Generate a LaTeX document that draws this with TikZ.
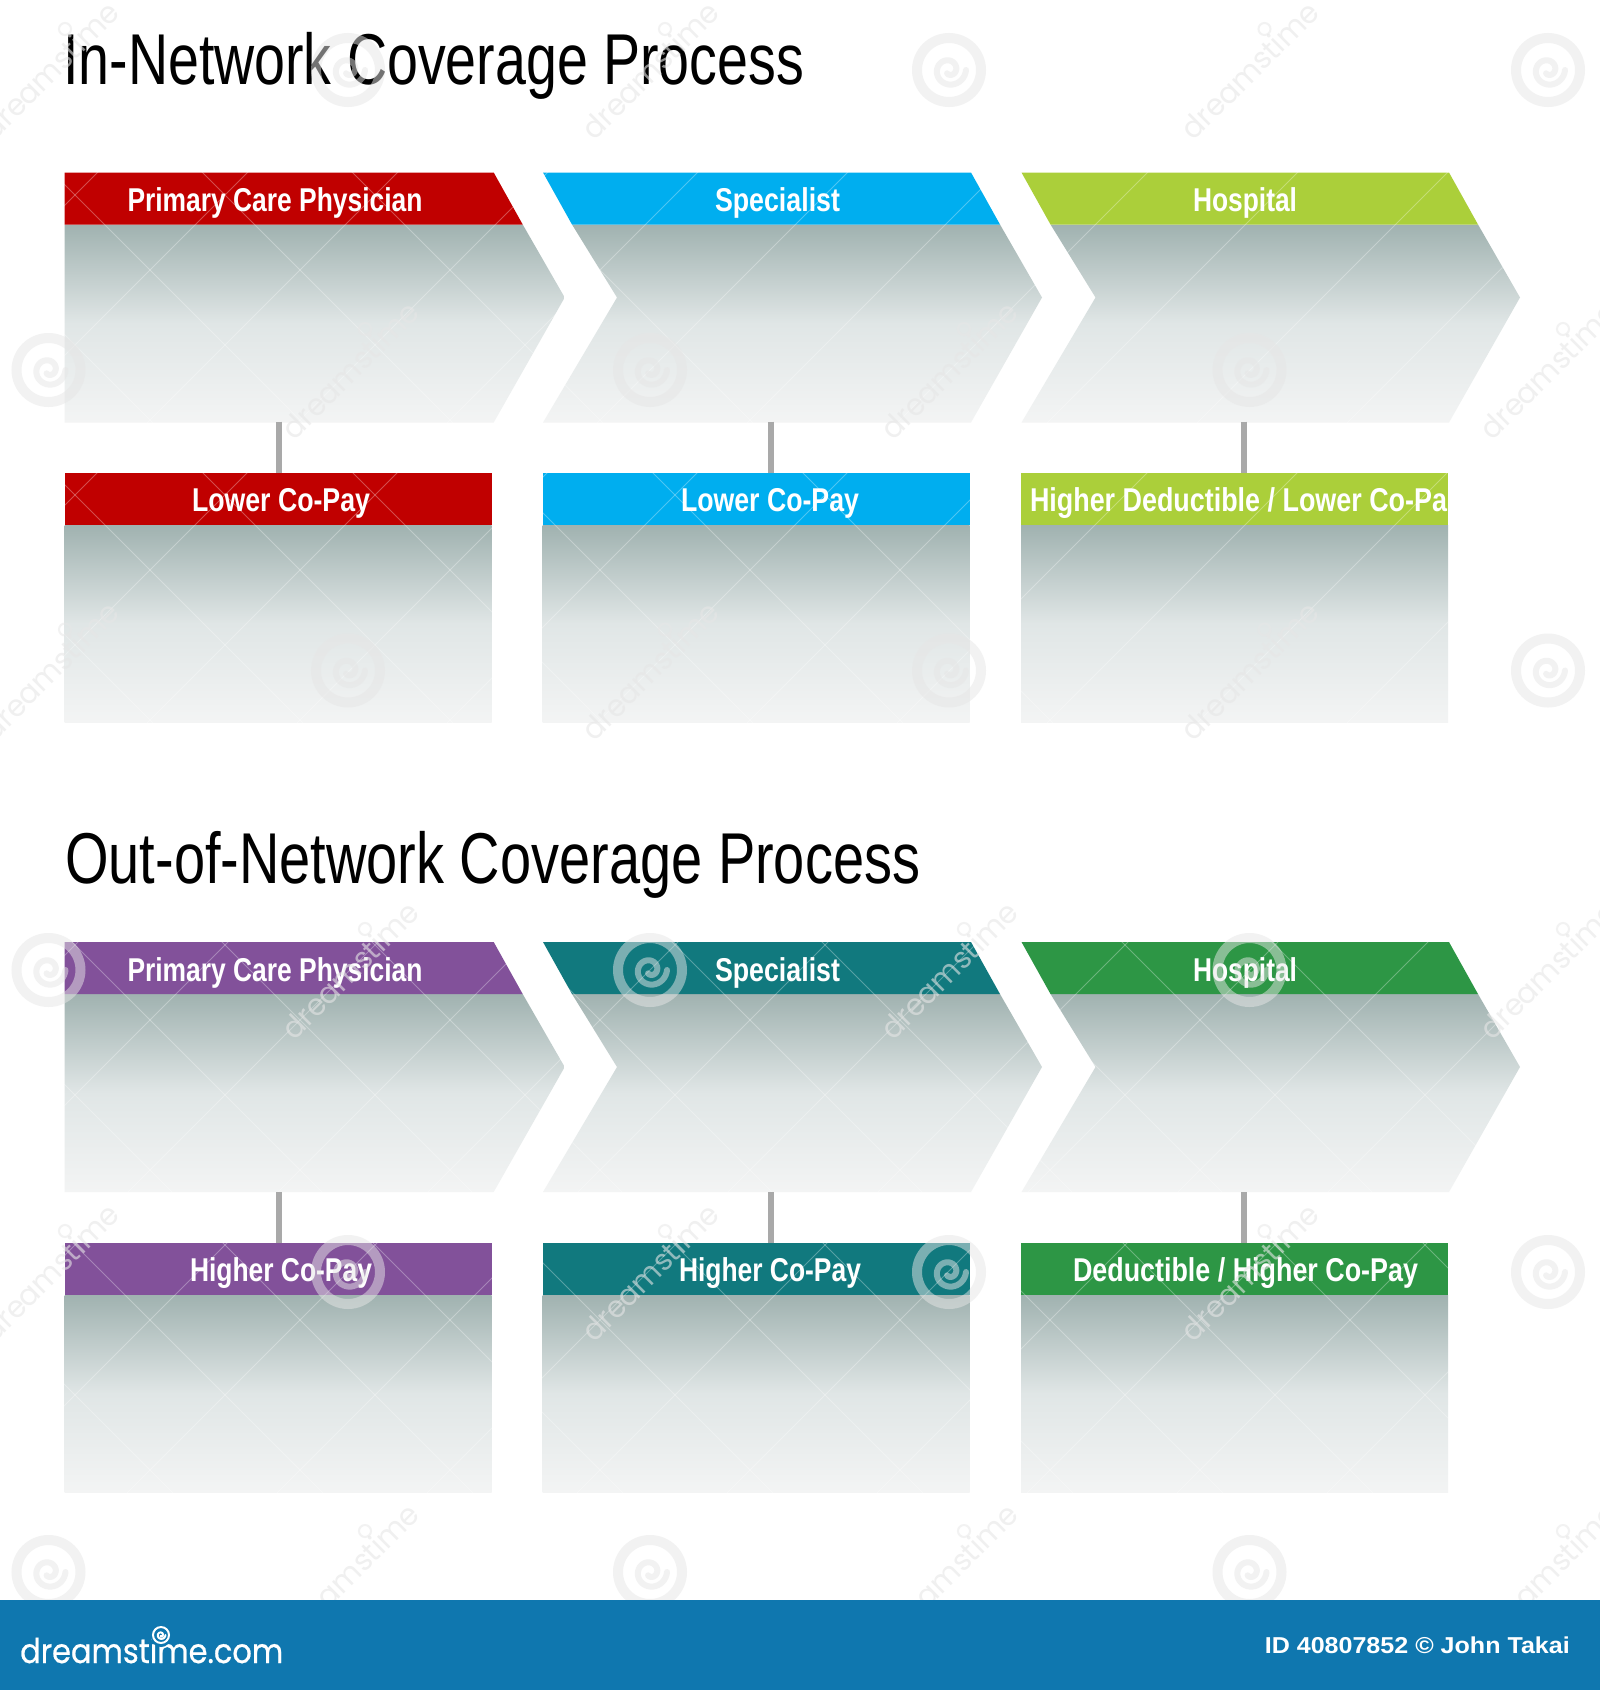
\documentclass[tikz,border=0pt]{standalone}
\usepackage{fontspec}
\usepackage{graphicx}
\setmainfont{Liberation Sans}
\newfontfamily\wmfont{Poppins}
\newfontfamily\logofont[FakeBold=0.7]{Poppins}
\newsavebox\fitbox
\newcommand\fitw[2]{\sbox\fitbox{#2}\pgfmathsetmacro\fitr{#1/\the\wd\fitbox}\scalebox{\fitr}[1]{\usebox\fitbox}}
\definecolor{cRed}{HTML}{C00000}
\definecolor{cBlue}{HTML}{00AEEF}
\definecolor{cLime}{HTML}{ABCF3A}
\definecolor{cPurple}{HTML}{82519A}
\definecolor{cTeal}{HTML}{11797E}
\definecolor{cGreen}{HTML}{2D9645}
\definecolor{cFoot}{HTML}{0F77AF}
\definecolor{cLink}{HTML}{A9A9A9}
\definecolor{cTop}{HTML}{A0B2B0}
\definecolor{cMid}{HTML}{E0E6E6}
\definecolor{cBot}{HTML}{F3F4F4}
\definecolor{cWm}{HTML}{E6E6E6}
\tikzset{
  panel/.style={top color=cTop,bottom color=cBot,middle color=cMid,draw=none},
  titletext/.style={anchor=base west,inner sep=0pt,font=\fontsize{72}{72}\selectfont},
  headtext/.style={anchor=base,inner sep=0pt,text=white,font=\fontsize{33}{33}\selectfont\bfseries},
  lowhead/.style={anchor=north west,inner sep=0pt,minimum width=427pt,minimum height=52pt,draw=none},
  link/.style={draw=cLink,line width=6pt},
  wmark/.style={draw=cWm,opacity=0.5,line cap=round},
  wmtext/.style={inner sep=0pt,text=cWm,opacity=0.6,rotate=45,font=\wmfont\fontsize{30}{30}\selectfont},
  lattice/.style={draw=white,opacity=0.3,line width=1pt},
}
\newcommand\chevron[6]{% L, R, T, colour, notched(0/1), name
  \pgfmathsetmacro\cvN{#5*74}
  \pgfmathsetmacro\cvO{#5*29}
  \path[panel] (#1+\cvO,#3+52) -- (#2+29,#3+52) -- (#2+71,#3+125) -- (#2,#3+250) -- (#1,#3+250) -- (#1+\cvN,#3+125) -- cycle;
  \fill[#4] (#1,#3) -- (#2,#3) -- (#2+29,#3+52) -- (#1+\cvO,#3+52) -- cycle;
  \coordinate (#6) at (#1,#3+250);
}
\newcommand\wmspiral[2]{%
  \draw[wmark,line width=10pt] (#1,#2) circle (32pt);
  \draw[wmark,line width=6pt] plot[smooth,samples=50,domain=0:480,variable=\t]
    ({#1+17*(1-\t/620)*cos(\t)},{#2+17*(1-\t/620)*sin(\t)});
}
\newcommand\wmword[2]{%
  \node[wmtext] at (#1,#2) {\fitw{180}{dreamstime}};
  \draw[wmark,line width=2pt] (#1+15,#2-41) circle (6pt);
}
\begin{document}
\begin{tikzpicture}[x=1pt,y=-1pt]
\useasboundingbox (0,0) rectangle (1600,1690);
\fill[white] (0,0) rectangle (1600,1690);

% chevrons
\chevron{64.7}{493.7}{172.5}{cRed}{0}{c1}
\chevron{543}{971}{172.5}{cBlue}{1}{c2}
\chevron{1021.5}{1449}{172.5}{cLime}{1}{c3}
\chevron{64.7}{493.7}{942}{cPurple}{0}{c4}
\chevron{543}{971}{942}{cTeal}{1}{c5}
\chevron{1021.5}{1449}{942}{cGreen}{1}{c6}

% lower boxes
\foreach \nm/\xx/\yy/\cc in {1/64.7/473/cRed,2/542.5/473/cBlue,3/1021/473/cLime,4/64.7/1243/cPurple,5/542.5/1243/cTeal,6/1021/1243/cGreen}{
  \path[panel] (\xx,\yy+52) rectangle (\xx+427,\yy+249.5);
  \node[lowhead,fill=\cc] (b\nm) at (\xx,\yy) {};
}

% faint diagonal watermark lattice
\foreach \c in {-1530,-1380,...,3270}{
  \draw[lattice] (0,\c) -- (1600,\c-1600);
  \draw[lattice] (0,\c+1200) -- (1600,\c+2800);
}

% titles
\node[titletext] (title1) at (63,84) {\fitw{741}{In-Network Coverage Process}};
\node[titletext] (title2) at (65,883) {\fitw{855}{Out-of-Network Coverage Process}};

% connectors
\coordinate (k1) at (279,421.6);
\coordinate (k2) at (771,421.6);
\coordinate (k3) at (1244,421.6);
\coordinate (k4) at (279,1192);
\coordinate (k5) at (771,1192);
\coordinate (k6) at (1244,1192);
\foreach \i in {1,...,6}{ \draw[link] (k\i) -- (k\i |- b\i.north); }

% header labels
\node[headtext] (h1) at (275,211) {\fitw{295}{Primary Care Physician}};
\node[headtext] (h2) at (777.5,211) {\fitw{125}{Specialist}};
\node[headtext] (h3) at (1245,211) {\fitw{104}{Hospital}};
\node[headtext] (l1) at (281,511) {\fitw{178}{Lower Co-Pay}};
\node[headtext] (l2) at (770,511) {\fitw{178}{Lower Co-Pay}};
\node[headtext] (l3) at (1238.5,511) {\fitw{417}{Higher Deductible / Lower Co-Pa}};
\node[headtext] (h4) at (275,981) {\fitw{295}{Primary Care Physician}};
\node[headtext] (h5) at (777.5,981) {\fitw{125}{Specialist}};
\node[headtext] (h6) at (1245,981) {\fitw{104}{Hospital}};
\node[headtext] (l4) at (281,1281) {\fitw{182}{Higher Co-Pay}};
\node[headtext] (l5) at (770,1281) {\fitw{182}{Higher Co-Pay}};
\node[headtext] (l6) at (1245.5,1281) {\fitw{345}{Deductible / Higher Co-Pay}};

% watermarks
\foreach \xx in {48.5,650,1249.5}{\foreach \yy in {370,970,1572}{\wmspiral{\xx}{\yy}}}
\foreach \xx in {348,949,1548}{\foreach \yy in {70,670.5,1272}{\wmspiral{\xx}{\yy}}}
\foreach \xx in {50,650,1249.5}{\foreach \yy in {70,670.5,1272}{\wmword{\xx}{\yy}}}
\foreach \xx in {350,949,1548}{\foreach \yy in {370,970,1572}{\wmword{\xx}{\yy}}}

% footer
\fill[cFoot] (0,1600) rectangle (1600,1690);
\node[anchor=base west,inner sep=0pt,text=white,font=\logofont\fontsize{34}{34}\selectfont] (logo) at (20,1663) {\fitw{263}{dreamstime.com}};
\fill[cFoot] (161,1637) circle (10pt);
\draw[white,line width=2pt,line cap=round] (161,1635) circle (8pt);
\draw[white,line width=2pt,line cap=round] plot[smooth,samples=30,domain=0:480,variable=\t]
  ({161+4.5*(1-\t/620)*cos(\t)},{1635+4.5*(1-\t/620)*sin(\t)});
\node[anchor=base east,inner sep=0pt,text=white,font=\fontsize{23}{23}\selectfont\bfseries] (credit) at (1570,1653) {\fitw{305}{ID 40807852 © John Takai}};
\end{tikzpicture}
\end{document}
